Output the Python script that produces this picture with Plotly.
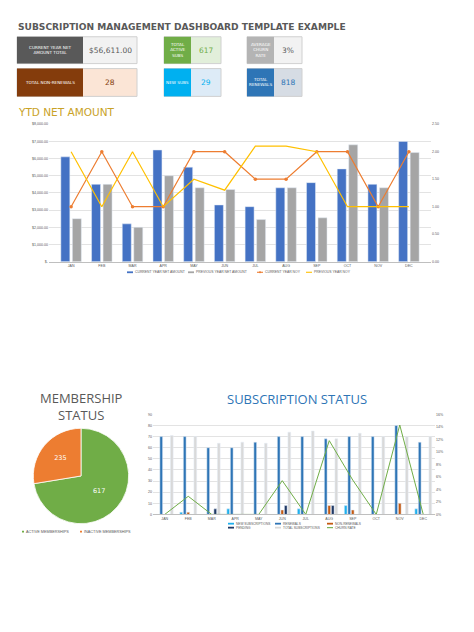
import plotly.graph_objects as go

W, H = 474, 632
def fx(x): return x / W
def fy(y): return 1 - y / H

# ---------------- data ----------------
months = ["JAN", "FEB", "MAR", "APR", "MAY", "JUN", "JUL", "AUG", "SEP", "OCT", "NOV", "DEC"]

current_net = [6100, 4500, 2200, 6500, 5500, 3300, 3200, 4300, 4600, 5400, 4500, 7000]
previous_net = [2500, 4500, 2000, 5000, 4300, 4200, 2450, 4300, 2550, 6800, 4300, 6350]
current_noy = [1.0, 2.0, 1.0, 1.0, 2.0, 2.0, 1.5, 1.5, 2.0, 2.0, 1.0, 2.0]
previous_noy = [2.0, 1.0, 2.0, 1.0, 1.5, 1.3, 2.1, 2.1, 2.0, 1.0, 1.0, 1.0]

ytd_left_ticks = [0, 1000, 2000, 3000, 4000, 5000, 6000, 7000, 8000]
ytd_left_text = ["$-", "$1,000.00", "$2,000.00", "$3,000.00", "$4,000.00",
                 "$5,000.00", "$6,000.00", "$7,000.00", "$8,000.00"]
ytd_right_ticks = [0, 0.5, 1.0, 1.5, 2.0, 2.5]

member_labels = ["ACTIVE MEMBERSHIPS", "INACTIVE MEMBERSHIPS"]
member_values = [617, 235]

new_subs = [0, 2, 0, 5, 0, 0, 5, 0, 8, 0, 0, 5]
renewals = [70, 70, 60, 60, 65, 70, 70, 68, 70, 70, 80, 65]
non_renewals = [0, 2, 0, 0, 0, 4, 0, 8, 4, 0, 10, 0]
pending = [0, 0, 5, 0, 0, 8, 0, 8, 0, 0, 0, 0]
total_subs = [71, 70, 64, 65, 64, 74, 75, 68, 73, 70, 70, 70]
churn_rate = [0, 2.9, 0, 0, 0, 5.4, 0, 11.8, 5.5, 0, 14.3, 0]

kpi_labels = ["CURRENT YEAR NET<br>AMOUNT TOTAL", "TOTAL<br>ACTIVE<br>SUBS", "AVERAGE<br>CHURN<br>RATE",
              "TOTAL NON-RENEWALS", "NEW SUBS", "TOTAL<br>RENEWALS"]
kpi_values = ["$56,611.00", "617", "3%", "28", "29", "818"]

# ---------------- styles ----------------
C_BLUE = "#4472C4"
C_GRAY = "#A5A5A5"
C_ORANGE = "#ED7D31"
C_YELLOW = "#FFC000"
C_GREEN = "#70AD47"
C_CYAN = "#1FB0EE"
C_REN = "#2E75B6"
C_NONREN = "#C55A11"
C_PEND = "#1F3864"
C_TOTAL = "#D9D9D9"
TXT = "#595959"
TICKF = dict(family="Liberation Sans", size=3.6, color=TXT)

fig = go.Figure()

# YTD chart
fig.add_trace(go.Bar(x=months, y=current_net, name="CURRENT YEAR NET AMOUNT", marker_color=C_BLUE,
                     xaxis="x", yaxis="y", showlegend=False))
fig.add_trace(go.Bar(x=months, y=previous_net, name="PREVIOUS YEAR NET AMOUNT", marker_color=C_GRAY,
                     xaxis="x", yaxis="y", showlegend=False))
fig.add_trace(go.Scatter(x=months, y=current_noy, name="CURRENT YEAR NOY", mode="lines+markers",
                         line=dict(color=C_ORANGE, width=1.2), marker=dict(size=3.5, color=C_ORANGE),
                         xaxis="x", yaxis="y2", showlegend=False))
fig.add_trace(go.Scatter(x=months, y=previous_noy, name="PREVIOUS YEAR NOY", mode="lines",
                         line=dict(color=C_YELLOW, width=1.2),
                         xaxis="x", yaxis="y2", showlegend=False))

# Pie
fig.add_trace(go.Pie(labels=member_labels, values=member_values, sort=False, direction="clockwise",
                     rotation=0, marker=dict(colors=[C_GREEN, C_ORANGE], line=dict(color="white", width=0.8)),
                     textinfo="value", textfont=dict(family="DejaVu Sans", size=6.5, color="white"),
                     domain=dict(x=[fx(33), fx(129)], y=[fy(525), fy(429)]), showlegend=False,
                     hoverinfo="label+value"))

# Subscription status chart
for vals, col, nm in [(new_subs, C_CYAN, "NEW SUBSCRIPTIONS"), (renewals, C_REN, "RENEWALS"),
                      (non_renewals, C_NONREN, "NON-RENEWALS"), (pending, C_PEND, "PENDING"),
                      (total_subs, C_TOTAL, "TOTAL SUBSCRIPTIONS")]:
    fig.add_trace(go.Bar(x=months, y=vals, name=nm, marker_color=col, xaxis="x2", yaxis="y3",
                         showlegend=False))
fig.add_trace(go.Scatter(x=months, y=churn_rate, name="CHURN RATE", mode="lines",
                         line=dict(color=C_GREEN, width=1.0), xaxis="x2", yaxis="y4", showlegend=False))

shapes = []
annotations = []

def note(x, y, text, font, xa="center", ya="middle", align="center"):
    annotations.append(dict(x=fx(x), y=fy(y), xref="paper", yref="paper", xanchor=xa, yanchor=ya,
                            text=text, showarrow=False, align=align, borderpad=0, font=font))

# Title
note(17, 25.5, "<b>SUBSCRIPTION MANAGEMENT DASHBOARD TEMPLATE EXAMPLE</b>",
     dict(family="DejaVu Sans", size=9.1, color=TXT), xa="left", align="left")

# KPI boxes
kpi_boxes = [
    # label x0, label/value split, value x1, y0, y1, label fill, value fill, value color
    (17, 83, 137, 35, 62, "#595959", "#F2F2F2", TXT),
    (164, 191, 221, 35, 62, C_GREEN, "#E2EFDA", C_GREEN),
    (247, 274, 302, 35, 62, "#B4B4B4", "#F2F2F2", TXT),
    (17, 83, 137, 67, 95, "#843C0C", "#FBE5D6", "#843C0C"),
    (164, 191, 221, 67, 95, "#00B0F0", "#DDEBF7", "#00B0F0"),
    (247, 274, 302, 67, 95, C_REN, "#D6DCE4", C_REN),
]
for i, (a, b, c, y0, y1, lf, vf, vc) in enumerate(kpi_boxes):
    shapes.append(dict(type="rect", xref="paper", yref="paper", x0=fx(a), x1=fx(c), y0=fy(y1), y1=fy(y0),
                       fillcolor=vf, line=dict(color="#D0D0D0", width=1), layer="below"))
    shapes.append(dict(type="rect", xref="paper", yref="paper", x0=fx(a), x1=fx(b), y0=fy(y1), y1=fy(y0),
                       fillcolor=lf, line=dict(width=0), layer="below"))
    note((a + b) / 2, (y0 + y1) / 2, kpi_labels[i], dict(family="DejaVu Sans", size=4.2, color="white"))
    note((b + c) / 2, (y0 + y1) / 2, kpi_values[i], dict(family="DejaVu Sans", size=7.5, color=vc))

# Chart titles
note(17, 110.5, "YTD NET AMOUNT", dict(family="DejaVu Sans", size=10.5, color="#C9A227"), xa="left")
note(81, 407, "MEMBERSHIP<br>STATUS", dict(family="Open Sans", size=13, color=TXT))
note(297, 400, "SUBSCRIPTION STATUS", dict(family="Open Sans", size=13, color=C_REN))

# Manual legends
def legend_item(x0, y, color, kind, text, fs=3.4, w=6):
    if kind == "rect":
        shapes.append(dict(type="rect", xref="paper", yref="paper", x0=fx(x0), x1=fx(x0 + w),
                           y0=fy(y + 0.9), y1=fy(y - 0.9), fillcolor=color, line=dict(width=0)))
    elif kind == "square":
        shapes.append(dict(type="rect", xref="paper", yref="paper", x0=fx(x0), x1=fx(x0 + 2),
                           y0=fy(y + 1), y1=fy(y - 1), fillcolor=color, line=dict(width=0)))
        w = 2
    else:
        shapes.append(dict(type="line", xref="paper", yref="paper", x0=fx(x0), x1=fx(x0 + w),
                           y0=fy(y), y1=fy(y), line=dict(color=color, width=1.1)))
        if kind == "linemarker":
            shapes.append(dict(type="circle", xref="paper", yref="paper", x0=fx(x0 + w / 2 - 1),
                               x1=fx(x0 + w / 2 + 1), y0=fy(y + 1), y1=fy(y - 1),
                               fillcolor=color, line=dict(width=0)))
    note(x0 + w + 0.8, y, text, dict(family="Liberation Sans", size=fs, color=TXT), xa="left", align="left")

legend_item(127, 272, C_BLUE, "rect", "CURRENT YEAR NET AMOUNT")
legend_item(188, 272, C_GRAY, "rect", "PREVIOUS YEAR NET AMOUNT")
legend_item(257, 272, C_ORANGE, "linemarker", "CURRENT YEAR NOY")
legend_item(306, 272, C_YELLOW, "line", "PREVIOUS YEAR NOY")

legend_item(22, 533, C_GREEN, "square", "ACTIVE MEMBERSHIPS", fs=3.8)
legend_item(80, 533, C_ORANGE, "square", "INACTIVE MEMBERSHIPS", fs=3.8)

legend_item(228, 525, C_CYAN, "rect", "NEW SUBSCRIPTIONS", fs=3.2)
legend_item(275, 525, C_REN, "rect", "RENEWALS", fs=3.2)
legend_item(327, 525, C_NONREN, "rect", "NON-RENEWALS", fs=3.2)
legend_item(228, 529, C_PEND, "rect", "PENDING", fs=3.2)
legend_item(275, 529, C_TOTAL, "rect", "TOTAL SUBSCRIPTIONS", fs=3.2)
legend_item(327, 529, C_GREEN, "line", "CHURN RATE", fs=3.2)

fig.update_layout(
    width=W, height=H, autosize=False,
    margin=dict(l=0, r=0, t=0, b=0),
    paper_bgcolor="white", plot_bgcolor="white",
    barmode="group", bargap=0.25, bargroupgap=0.22,
    showlegend=False,
    shapes=shapes, annotations=annotations,
    xaxis=dict(domain=[fx(49), fx(431)], anchor="y", tickfont=TICKF, showgrid=False, showline=True,
               linecolor="#BFBFBF", linewidth=0.8, ticks=""),
    yaxis=dict(domain=[fy(261.3), fy(123)], range=[0, 8000], tickvals=ytd_left_ticks, ticktext=ytd_left_text,
               tickfont=TICKF, showgrid=True, gridcolor="#E3E3E3", gridwidth=0.6, zeroline=False,
               showline=False, ticks=""),
    yaxis2=dict(overlaying="y", side="right", anchor="x", range=[0, 2.5], tickvals=ytd_right_ticks,
                tickformat=".2f", ticksuffix="%", tickfont=TICKF, showgrid=False, zeroline=False,
                showline=False, ticks=""),
    xaxis2=dict(domain=[fx(153), fx(435)], anchor="y3", tickfont=TICKF, showgrid=False, showline=True,
                linecolor="#BFBFBF", linewidth=0.8, ticks=""),
    yaxis3=dict(domain=[fy(515.7), fy(415)], range=[0, 90], dtick=10, tickfont=TICKF, showgrid=True,
                gridcolor="#E3E3E3", gridwidth=0.6, zeroline=False, showline=False, ticks="", anchor="x2"),
    yaxis4=dict(overlaying="y3", side="right", anchor="x2", range=[0, 16], dtick=2, tickformat="d",
                ticksuffix="%", tickfont=TICKF, showgrid=False, zeroline=False, showline=False, ticks=""),
)

fig.write_html("out.html")
